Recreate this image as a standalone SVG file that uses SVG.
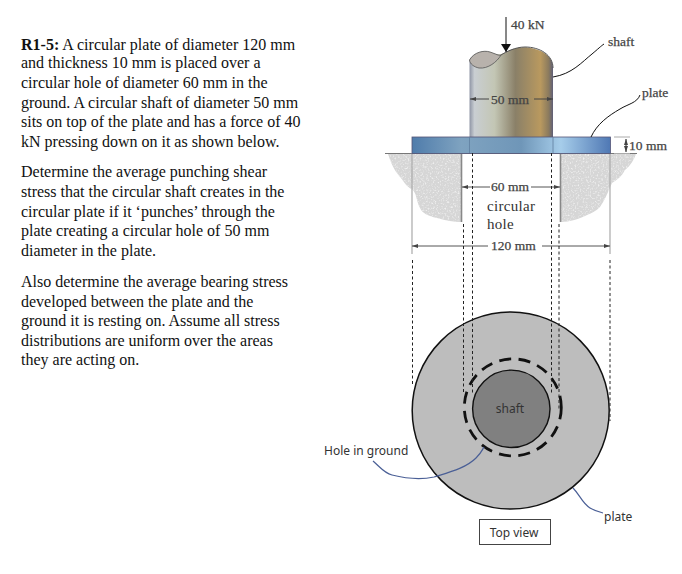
<svg xmlns="http://www.w3.org/2000/svg" width="682" height="574" viewBox="0 0 682 574">
<style>
.t{font-family:"Liberation Serif",serif;font-size:16px;fill:#111}
.f{font-family:"Liberation Serif",serif;font-size:13.500px;fill:#444;stroke:#444;stroke-width:.25}
.c{font-family:"Noto Sans",sans-serif;font-size:12px;fill:#333}
.k{fill:none;stroke:#111;stroke-width:1}
.d{fill:none;stroke:#222;stroke-width:1;stroke-dasharray:3 2.5}
.g{fill:none;stroke:#aaa;stroke-width:1.2}
.w{fill:none;stroke:#888;stroke-width:1.6}
.b{fill:none;stroke:#4a5f96;stroke-width:1.2}
</style>
<defs>
<linearGradient id="sg" x1="0" x2="1" y1="0" y2="0">
<stop offset="0" stop-color="#8f95a5"/><stop offset=".06" stop-color="#c9ced2"/><stop offset=".3" stop-color="#c3c6b4"/><stop offset=".55" stop-color="#8a8068"/><stop offset=".85" stop-color="#b9995f"/><stop offset=".95" stop-color="#8a7a5e"/><stop offset="1" stop-color="#5f5f78"/>
</linearGradient>
<linearGradient id="pg" x1="0" x2="1" y1="0" y2="0">
<stop offset="0" stop-color="#4f7cab"/><stop offset=".25" stop-color="#7fa3c0"/><stop offset=".55" stop-color="#6f96b8"/><stop offset=".75" stop-color="#a6cdea"/><stop offset="1" stop-color="#4f78b4"/>
</linearGradient>
<filter id="sp" x="0" y="0" width="1" height="1"><feTurbulence type="fractalNoise" baseFrequency=".6" numOctaves="2" seed="4"/><feColorMatrix values="0 0 0 0 1 0 0 0 0 1 0 0 0 0 1 1.800 0 0 0 -.9"/><feComposite in2="SourceGraphic" operator="in" result="n"/><feMerge><feMergeNode in="SourceGraphic"/><feMergeNode in="n"/></feMerge></filter>
<marker id="a" viewBox="0 0 6 6" refX="6" refY="3" markerWidth="6" markerHeight="6" orient="auto-start-reverse"><path d="M0 1L6 3L0 5z" fill="#444"/></marker>
<marker id="h" viewBox="0 0 8 10" refX="8" refY="5" markerWidth="8" markerHeight="10" orient="auto"><path d="M0 0L8 5L0 10z" fill="#111"/></marker>
</defs>
<g id="problem-text">
<text class="t" x="21" y="49.500"><tspan font-weight="bold">R1-5:</tspan> A circular plate of diameter 120 mm</text>
<text class="t" x="21" y="68">and thickness 10 mm is placed over a</text>
<text class="t" x="21" y="87.500">circular hole of diameter 60 mm in the</text>
<text class="t" x="21" y="107.500">ground. A circular shaft of diameter 50 mm</text>
<text class="t" x="21" y="127">sits on top of the plate and has a force of 40</text>
<text class="t" x="21" y="146.500">kN pressing down on it as shown below.</text>
<text class="t" x="21" y="177">Determine the average punching shear</text>
<text class="t" x="21" y="197">stress that the circular shaft creates in the</text>
<text class="t" x="21" y="216.500">circular plate if it ‘punches’ through the</text>
<text class="t" x="21" y="236">plate creating a circular hole of 50 mm</text>
<text class="t" x="21" y="255.500">diameter in the plate.</text>
<text class="t" x="21" y="287">Also determine the average bearing stress</text>
<text class="t" x="21" y="306.500">developed between the plate and the</text>
<text class="t" x="21" y="326">ground it is resting on. Assume all stress</text>
<text class="t" x="21" y="345.500">distributions are uniform over the areas</text>
<text class="t" x="21" y="365">they are acting on.</text>
</g>
<g id="ground">
<path filter="url(#sp)" d="M388 154H461.500V222C452 222 444 220 437 218C428 216 422 213 420 208C416 200 417 195 413 190C405 186 404 181 400 177C394 170 391 163 388 154Z" fill="#d6d6d6"/>
<path filter="url(#sp)" d="M560.500 154H636C634 160 630 166 625 170C622 176 617 180 612 183C608 192 605 200 600 207C596 211 592 213 587 215C579 219 570 222 560.500 222Z" fill="#d6d6d6"/>
<path d="M385 153.500H637" stroke="#777" stroke-width="1.200" fill="none"/>
<path class="w" d="M461.500 153.500V222M560.500 153.500V222"/>
<path class="g" d="M412 153.500V254M610 153.500V254"/>
</g>
<g id="top-view-plate">
<circle cx="510.700" cy="410.500" r="98.500" fill="#bdbdbd" stroke="#111" stroke-width="1.500"/>
<circle cx="512.800" cy="407.400" r="48.500" fill="none" stroke="#111" stroke-width="2.800" stroke-dasharray="12 7.500"/>
</g>
<g id="top-view-shaft">
<circle cx="511.300" cy="408.800" r="38.700" fill="#808080" stroke="#111" stroke-width="1.400"/>
<text class="c" x="510" y="413" text-anchor="middle">shaft</text>
</g>
<g id="shaft">
<path d="M469.500 137V60C474 52 484 50 490 52C496 54 499 56 506 52C515 47 525 46 535 49C546 52 553 58 553 68V137Z" fill="url(#sg)"/>
<path d="M469.500 60C474 52 484 50 490 52C496 54 499 56 501 55C497 62 488 69 479 68C474 67 470 64 469.500 60Z" fill="#b8b2ac" stroke="#555" stroke-width=".8"/>
<path d="M501 55C506 52 515 47 525 47C540 47 553 55 553 68" fill="none" stroke="#555" stroke-width="1"/>
</g>
<g id="plate">
<rect x="412" y="137" width="198.500" height="16.500" fill="url(#pg)" stroke="#557" stroke-width=".8"/>
<path d="M469.500 137V153M553 137V153" stroke="#5f7f9f" stroke-width=".8"/>
</g>
<g id="connectors">
<path class="k" d="M506 17V52" stroke-width="1.500" marker-end="url(#h)"/>
<path class="k" d="M553 77C572 74 582 62 592 54C598 49 601 46 604 44" stroke-width="1.300"/>
<path class="k" d="M591 137C597 124 608 116 620 109C628 104 637 103 640 95" stroke-width="1.300"/>
<path d="M614 137H630M614 153.500H630" stroke="#aaa" fill="none"/>
<path d="M626 139V152" stroke="#222" fill="none" marker-start="url(#a)" marker-end="url(#a)"/>
<path d="M489 99H470" stroke="#444" marker-end="url(#a)" fill="none"/>
<path d="M534 99H553" stroke="#444" marker-end="url(#a)" fill="none"/>
<path d="M490 187H462" stroke="#555" marker-end="url(#a)" fill="none"/>
<path d="M531 187H560" stroke="#555" marker-end="url(#a)" fill="none"/>
<path d="M488 246H412" stroke="#555" marker-end="url(#a)" fill="none"/>
<path d="M542 246H610" stroke="#555" marker-end="url(#a)" fill="none"/>
<path class="d" d="M472.500 153V394M551.500 153V394"/>
<path class="d" d="M463.500 224V392M559 224V409"/>
<path class="d" d="M412.500 260V384M610 260V421"/>
<path class="b" d="M373 461C380 467 384 473 392 475C404 478 420 480 434 477C450 472 466 468 476 458C482 452 482 450 484 447"/>
<path class="b" d="M573 488C580 495 582 503 590 508C595 511 599 512 603 513"/>
</g>
<g id="labels">
<text class="f" x="511" y="29">40 kN</text>
<text class="f" x="608" y="46">shaft</text>
<text class="f" x="642" y="97">plate</text>
<text class="f" x="629" y="150">10 mm</text>
<text class="f" x="491" y="104">50 mm</text>
<text class="f" x="491" y="191">60 mm</text>
<text x="487" y="211" style="font-family:'Liberation Serif',serif;font-size:15px;fill:#333;letter-spacing:.3px">circular</text>
<text x="487" y="229" style="font-family:'Liberation Serif',serif;font-size:15px;fill:#333;letter-spacing:.3px">hole</text>
<text class="f" x="491" y="250">120 mm</text>
<text class="c" x="324" y="455">Hole in ground</text>
<text class="c" x="604" y="521">plate</text>
</g>
<g id="top-view-label">
<rect x="479.500" y="519.500" width="71" height="25" fill="#fff" stroke="#444"/>
<text class="c" x="514" y="537" text-anchor="middle">Top view</text>
</g>
</svg>
